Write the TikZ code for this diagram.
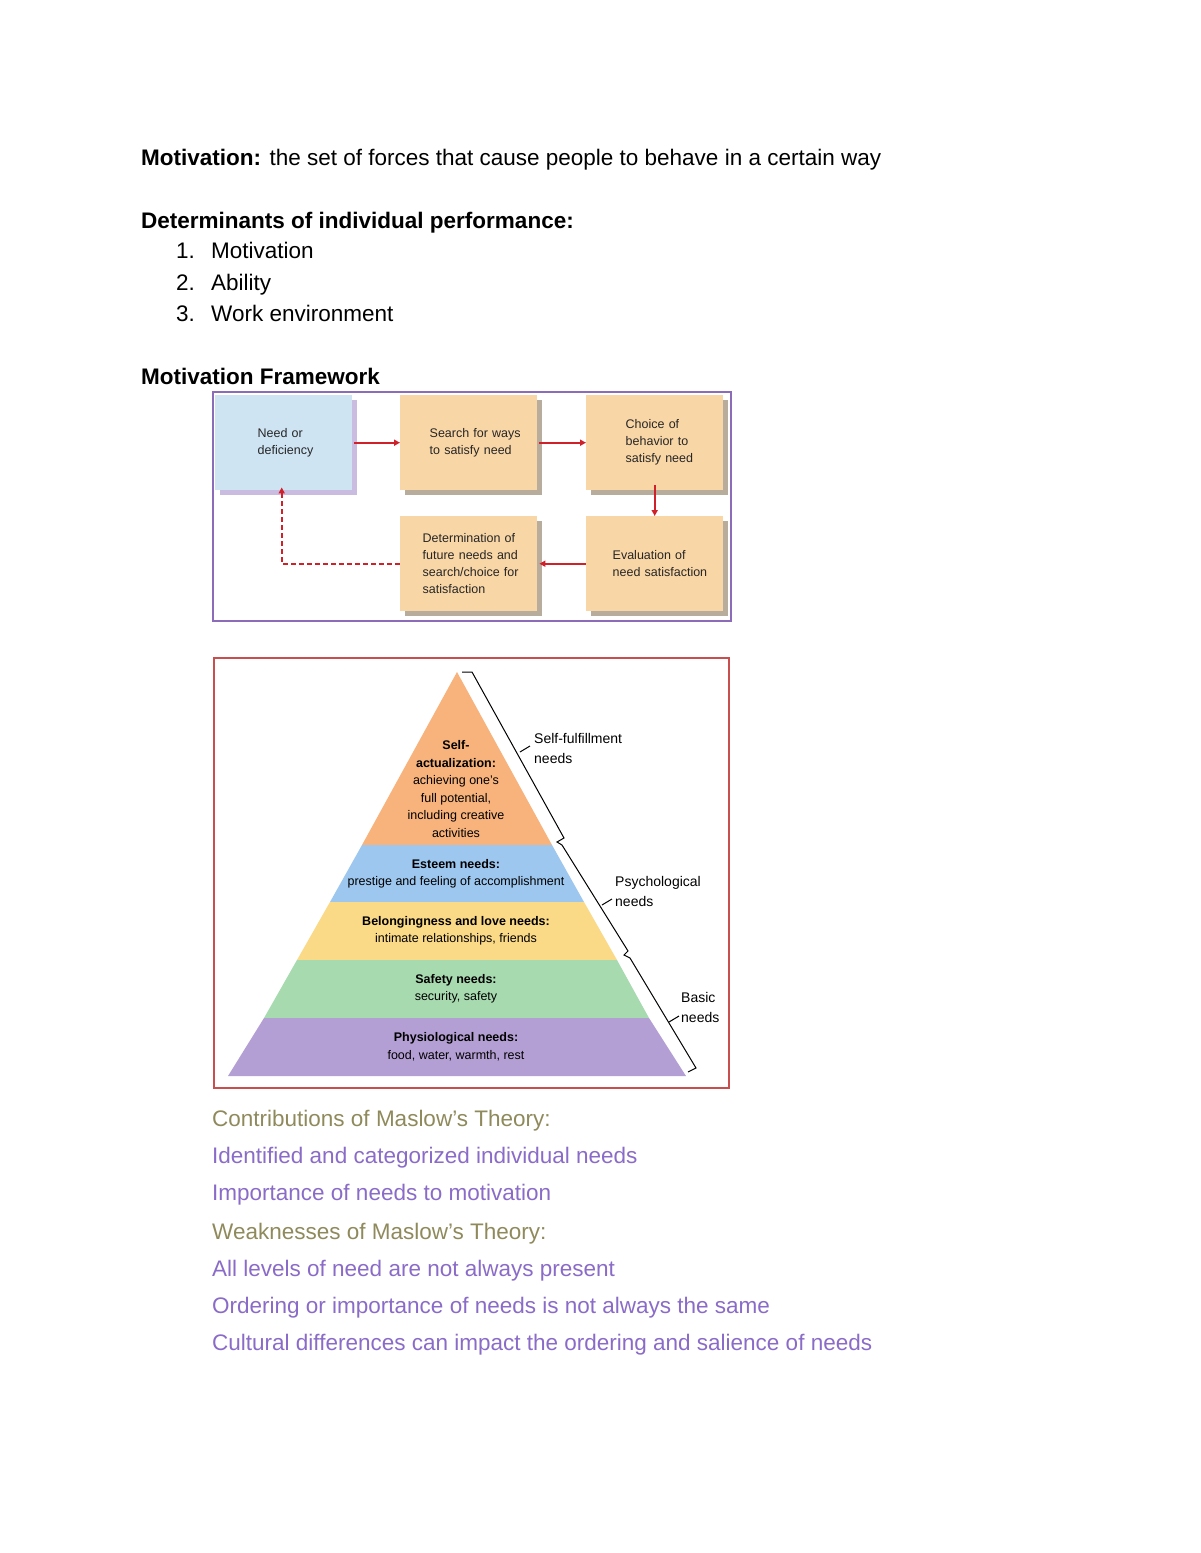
\documentclass[tikz,border=0pt]{standalone}
\usepackage{fontspec}
\setmainfont{Liberation Sans}
\usetikzlibrary{arrows.meta}
\definecolor{pbox}{HTML}{8C6BB8}
\definecolor{rbox}{HTML}{C94F4F}
\definecolor{tan}{HTML}{F9D6A6}
\definecolor{lblue}{HTML}{CFE4F3}
\definecolor{shad}{HTML}{B8AC9C}
\definecolor{redarr}{HTML}{D0202A}
\definecolor{olive}{HTML}{8F8A5C}
\definecolor{lav}{HTML}{8A6CC8}
\definecolor{cO}{HTML}{F7B37B}
\definecolor{cB}{HTML}{9DC7EE}
\definecolor{cY}{HTML}{FAD987}
\definecolor{cG}{HTML}{A8DAB0}
\definecolor{cP}{HTML}{B49FD4}
\tikzset{
 body/.style={anchor=base west,font=\fontsize{22.5}{26}\selectfont,inner sep=0},
 fbox/.style={fill=tan,minimum width=137pt,minimum height=95pt,anchor=north west,align=left,font=\fontsize{12.5}{17}\selectfont,text=black!85,inner sep=0,text width=120pt},
 arrw/.style={draw=redarr,line width=2pt,-{Triangle[length=6pt,width=6pt]}},
 plab/.style={align=center,font=\fontsize{12.5}{17.5}\selectfont,inner sep=0},
 blab/.style={align=left,font=\fontsize{14}{20}\selectfont,inner sep=0,anchor=north west},
}
\begin{document}
\begin{tikzpicture}[x=1pt,y=-1pt]
\useasboundingbox (0,0) rectangle (1200,1553);
\fill[white] (0,0) rectangle (1200,1553);
\node[body] (t1) at (141,165) {\textbf{Motivation:} the set of forces that cause people to behave in a certain way};
\node[body] (t2) at (141,228) {\textbf{Determinants of individual performance:}};
\node[body] (t3a) at (176,258) {1.};
\node[body] (t3) at (211,258) {Motivation};
\node[body] (t4a) at (176,290) {2.};
\node[body] (t4) at (211,290) {Ability};
\node[body] (t5a) at (176,321) {3.};
\node[body] (t5) at (211,321) {Work environment};
\node[body] (t6) at (141,384) {\textbf{Motivation Framework}};
% framework
\draw[pbox,line width=1.8pt] (213,392) rectangle (731,621);
\foreach \x/\y in {400/395,586/395,586/516,400/516}
  \fill[shad] (\x+5,\y+5) rectangle (\x+142,\y+100);
\fill[cP!70] (220,400) rectangle (357,495);
\node[fbox,fill=lblue] (n1) at (215,395) {\hspace*{34pt}Need or\\\hspace*{34pt}deficiency};
\node[fbox] (n2) at (400,395) {\hspace*{21pt}Search for ways\\\hspace*{21pt}to satisfy need};
\node[fbox] (n3) at (586,395) {\hspace*{31pt}Choice of\\\hspace*{31pt}behavior to\\\hspace*{31pt}satisfy need};
\node[fbox] (n4) at (586,516) {\hspace*{18pt}Evaluation of\\\hspace*{18pt}need satisfaction};
\node[fbox] (n5) at (400,516) {\hspace*{14pt}Determination of\\\hspace*{14pt}future needs and\\\hspace*{14pt}search/choice for\\\hspace*{14pt}satisfaction};
\draw[arrw] ([xshift=2pt]n1.east) -- (n2.west);
\draw[arrw] ([xshift=2pt]n2.east) -- (n3.west);
\draw[arrw] ([yshift=5pt]n3.south) -- (n4.north);
\draw[arrw] (n4.west) -- ([xshift=2pt]n5.east);
\draw[arrw,dash pattern=on 5pt off 3pt] (n5.west) -| ([xshift=-2pt,yshift=3pt]n1.south);
% pyramid
\draw[rbox,line width=1.8pt] (214,658) rectangle (729,1088);
\fill[cO] (457,672) -- (552,845) -- (362,845) -- cycle;
\fill[cB] (362,845) -- (552,845) -- (584,902) -- (330,902) -- cycle;
\fill[cY] (330,902) -- (584,902) -- (617,960) -- (297,960) -- cycle;
\fill[cG] (297,960) -- (617,960) -- (649,1018) -- (264,1018) -- cycle;
\fill[cP] (264,1018) -- (649,1018) -- (686,1076) -- (228,1076) -- cycle;
\node[plab] (p1) at (456,789) {\textbf{Self-}\\\textbf{actualization:}\\achieving one's\\full potential,\\including creative\\activities};
\node[plab] (p2) at (456,874) {\textbf{Esteem needs:}\\prestige and feeling of accomplishment};
\node[plab] (p3) at (456,931) {\textbf{Belongingness and love needs:}\\intimate relationships, friends};
\node[plab] (p4) at (456,989) {\textbf{Safety needs:}\\security, safety};
\node[plab] (p5) at (456,1047) {\textbf{Physiological needs:}\\food, water, warmth, rest};
\draw[line width=1pt] (462,672) -- (472,672) -- (564,838) -- (557,842) -- (562,845) -- (628,951) -- (624,955) -- (630,958) -- (696,1068) -- (688,1072);
\draw[line width=1pt] (520,752) -- (530,746);
\draw[line width=1pt] (602,905) -- (612,899);
\draw[line width=1pt] (669,1022) -- (679,1016);
\node[blab] (b1) at (534,733) {Self-fulfillment\\needs};
\node[blab] (b2) at (615,876) {Psychological\\needs};
\node[blab] (b3) at (681,992) {Basic\\needs};
% lists
\node[body,text=olive] (c1) at (212,1126) {Contributions of Maslow's Theory:};
\node[body,text=lav] (c2) at (212,1163) {Identified and categorized individual needs};
\node[body,text=lav] (c3) at (212,1200) {Importance of needs to motivation};
\node[body,text=olive] (c4) at (212,1239) {Weaknesses of Maslow's Theory:};
\node[body,text=lav] (c5) at (212,1276) {All levels of need are not always present};
\node[body,text=lav] (c6) at (212,1313) {Ordering or importance of needs is not always the same};
\node[body,text=lav] (c7) at (212,1350) {Cultural differences can impact the ordering and salience of needs};
\end{tikzpicture}
\end{document}
